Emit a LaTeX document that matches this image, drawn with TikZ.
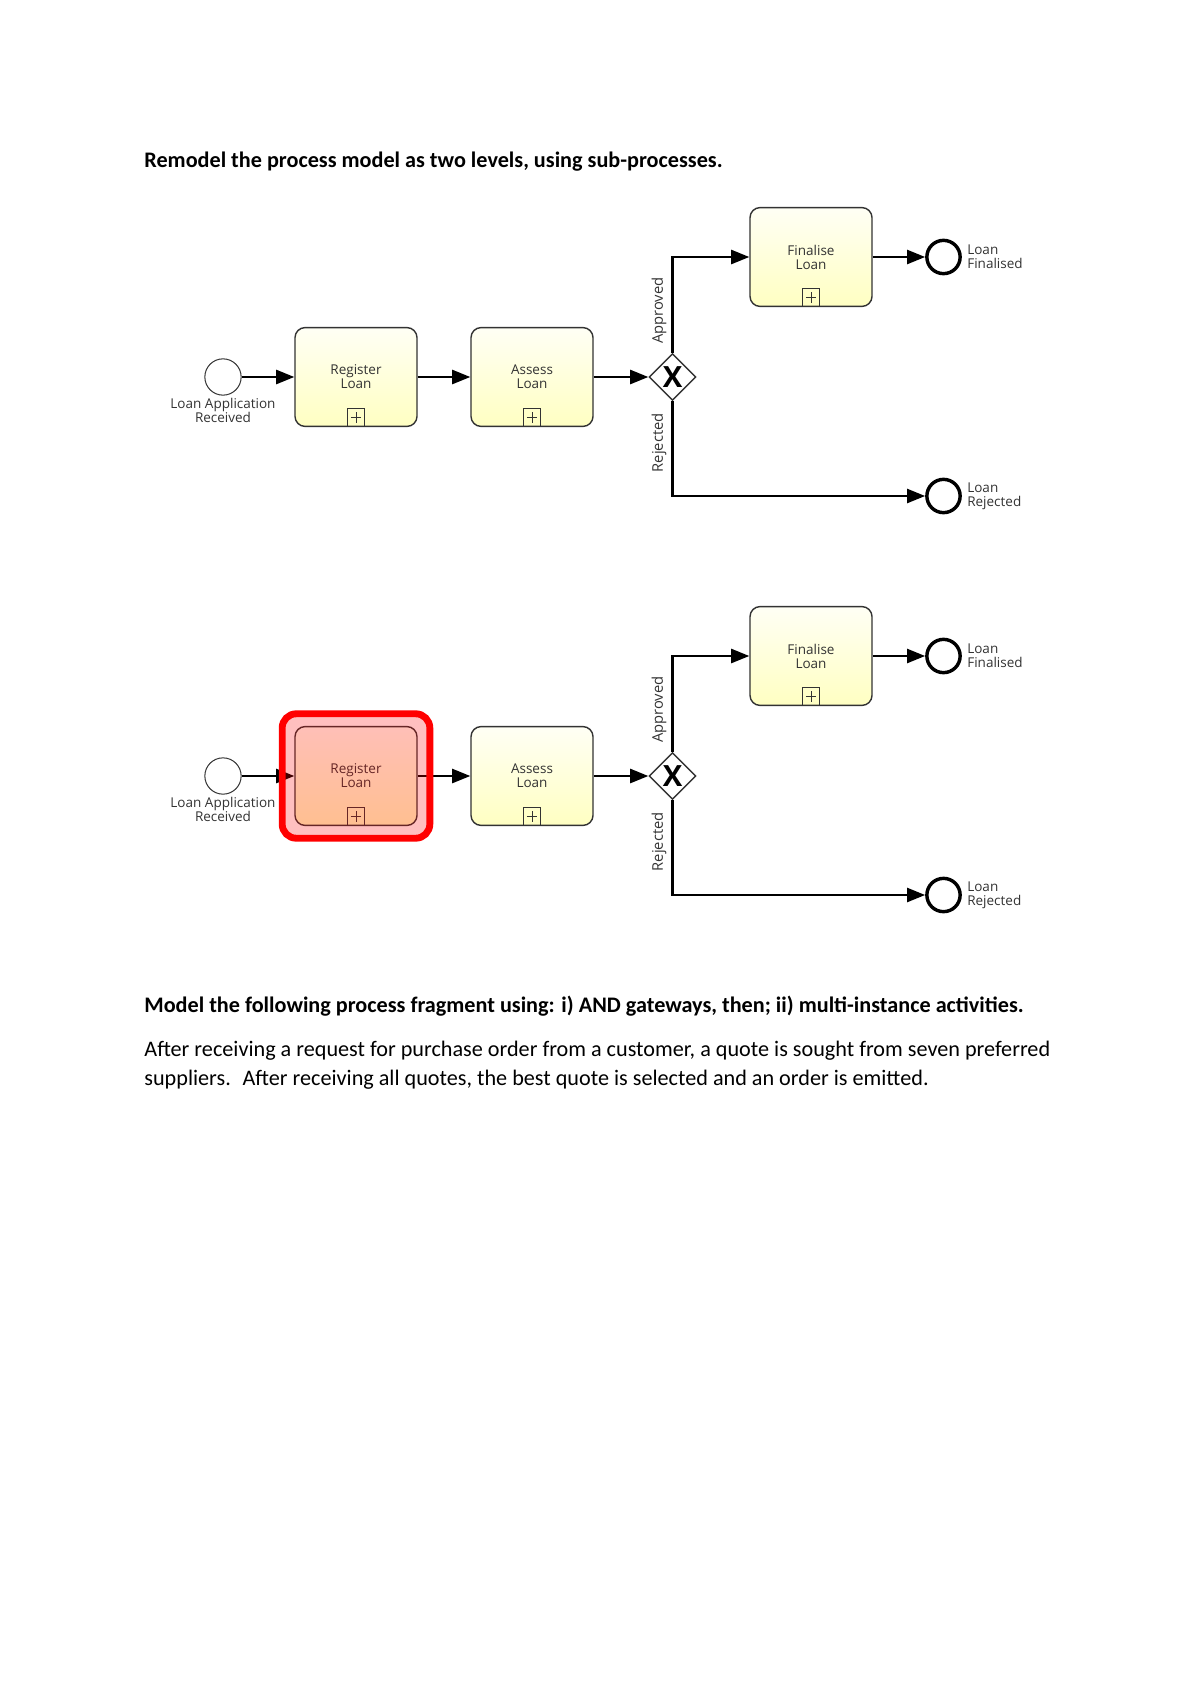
\documentclass[tikz,border=0pt]{standalone}
\usepackage{fontspec}
\setmainfont{Carlito}
\newfontfamily\bpmnfont{Open Sans}
\usetikzlibrary{fit,shapes,arrows.meta,positioning}

\begin{document}
\begin{tikzpicture}[x=0.4958pt, y=-0.4958pt,
        txt/.style={anchor=base west, inner sep=0pt, font=\fontsize{11}{13.5}\selectfont},
        head/.style={txt, font=\fontsize{11}{13.5}\selectfont\bfseries},
        lbl/.style={font=\bpmnfont\fontsize{6.7}{7}\selectfont, text=black!80, inner sep=1pt},
        sub/.style={lbl, rectangle, draw=black!80, line width=0.7pt, rounded corners=5pt, minimum width=60.5pt, minimum height=49pt, align=center, top color=yellow!4, bottom color=yellow!24,
            path picture={
                \draw[black!80, line width=0.5pt, sharp corners] ([xshift=-4.4pt]path picture bounding box.south) rectangle ([xshift=4.4pt, yshift=8.8pt]path picture bounding box.south);
                \draw[black!80, line width=0.5pt] ([yshift=1.8pt]path picture bounding box.south) -- ([yshift=7pt]path picture bounding box.south);
                \draw[black!80, line width=0.5pt] ([xshift=-2.6pt, yshift=4.4pt]path picture bounding box.south) -- ([xshift=2.6pt, yshift=4.4pt]path picture bounding box.south);
            }},
        side/.style={lbl, font=\bpmnfont\fontsize{7.3}{8}\selectfont, rotate=90, anchor=south, pos=0.22, inner sep=2.5pt},
        startev/.style={circle, draw=black!80, line width=0.5pt, fill=white, minimum size=18pt, inner sep=0pt},
        endev/.style={circle, draw=black, line width=1.7pt, fill=white, minimum size=16.5pt, inner sep=0pt},
        xgate/.style={diamond, draw=black!80, line width=0.7pt, fill=white, minimum width=23.3pt, minimum height=23.3pt, inner sep=0pt, font=\bpmnfont\bfseries\fontsize{14.5}{14.5}\selectfont},
        flow/.style={->, >={Triangle[length=9pt, width=7pt]}, line width=1.1pt},
        hl/.style={rectangle, draw=red, line width=3.4pt, rounded corners=7pt, fill=red, fill opacity=0.25, draw opacity=1, inner sep=6pt},
    ]
        \useasboundingbox (0,0) rectangle (1200,1698);

        % Task 1
        \node[head] (task1) at (144, 167) {Remodel the process model as two levels, using sub-processes.};

        % Level one
        \node[startev] (start1) at (223, 377) {};
        \node[lbl, below=0pt of start1, align=center] (start1l) {Loan Application\\Received};
        \node[sub] (reg1) at (356, 377) {Register\\Loan};
        \node[sub] (ass1) at (532, 377) {Assess\\Loan};
        \node[xgate] (gw1) at (672.5, 377) {X};
        \node[sub] (fin1) at (811, 257) {Finalise\\Loan};
        \node[endev] (endf1) at (943.5, 257) {};
        \node[lbl, right=1.5pt of endf1, align=left] (endf1l) {Loan\\Finalised};
        \node[endev] (endr1) at (943.5, 496) {};
        \node[lbl, right=1.5pt of endr1, align=left] (endr1l) {Loan\\Rejected};
        \draw[flow] (start1) -- (reg1);
        \draw[flow] (reg1) -- (ass1);
        \draw[flow] (ass1) -- (gw1);
        \draw[flow] (gw1.north) |- node[side] (apr1) {Approved} (fin1.west);
        \draw[flow] (gw1.south) |- node[side] (rej1) {Rejected} (endr1.west);
        \draw[flow] (fin1) -- (endf1);

        % Level one, Register Loan marked
        \node[startev] (start2) at (223, 776) {};
        \node[lbl, below=0pt of start2, align=center] (start2l) {Loan Application\\Received};
        \node[sub] (reg2) at (356, 776) {Register\\Loan};
        \node[sub] (ass2) at (532, 776) {Assess\\Loan};
        \node[xgate] (gw2) at (672.5, 776) {X};
        \node[sub] (fin2) at (811, 656) {Finalise\\Loan};
        \node[endev] (endf2) at (943.5, 656) {};
        \node[lbl, right=1.5pt of endf2, align=left] (endf2l) {Loan\\Finalised};
        \node[endev] (endr2) at (943.5, 895) {};
        \node[lbl, right=1.5pt of endr2, align=left] (endr2l) {Loan\\Rejected};
        \draw[flow] (start2) -- (reg2);
        \draw[flow] (reg2) -- (ass2);
        \draw[flow] (ass2) -- (gw2);
        \draw[flow] (gw2.north) |- node[side] (apr2) {Approved} (fin2.west);
        \draw[flow] (gw2.south) |- node[side] (rej2) {Rejected} (endr2.west);
        \draw[flow] (fin2) -- (endf2);
        \node[hl, fit=(reg2)] (mark2) {};

        % Task 2
        \node[head] (task2) at (144, 1012) {Model the following process fragment using: i) AND gateways, then; ii) multi-instance activities.};
        \node[txt] (text1) at (144, 1056) {After receiving a request for purchase order from a customer, a quote is sought from seven preferred};
        \node[txt] (text2) at (144, 1085) {suppliers.~ After receiving all quotes, the best quote is selected and an order is emitted.};
    \end{tikzpicture}
\end{document}
